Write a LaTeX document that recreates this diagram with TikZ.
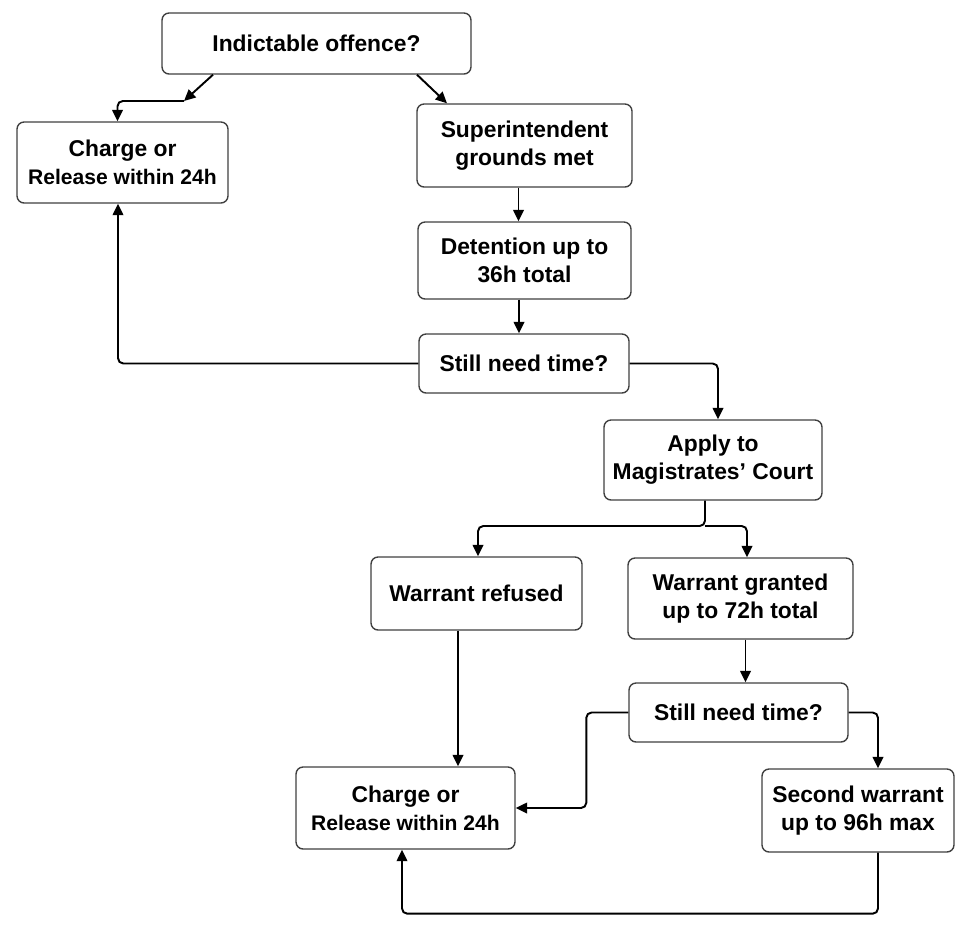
\documentclass[tikz,border=0pt]{standalone}
\usepackage{fontspec}
\setmainfont{Liberation Sans}
\usetikzlibrary{arrows.meta,calc}

\begin{document}
\begin{tikzpicture}[
  x=0.02cm, y=-0.02cm,
  >={Triangle[length=6.5pt,width=6pt]},
  font=\bfseries\fontsize{13}{16}\selectfont,
  box/.style={draw=black!75, line width=0.8pt, rounded corners=4pt, fill=white, align=center, inner sep=1pt},
  arr/.style={->, line width=1.1pt, rounded corners=3pt}
]
\useasboundingbox (0,0) rectangle (971,931);

\node[box, minimum width=6.18cm, minimum height=1.22cm] (q1) at (316.5,43.5) {Indictable offence?};
\node[box, minimum width=4.22cm, minimum height=1.62cm] (c1) at (122.5,162.5) {Charge or\\{\fontsize{12}{16}\selectfont Release within 24h}};
\node[box, minimum width=4.30cm, minimum height=1.66cm] (sup) at (524.5,145.5) {Superintendent\\grounds met};
\node[box, minimum width=4.26cm, minimum height=1.54cm] (det) at (524.5,260.5) {Detention up to\\36h total};
\node[box, minimum width=4.20cm, minimum height=1.18cm] (q2) at (524,363.5) {Still need time?};
\node[box, minimum width=4.36cm, minimum height=1.60cm] (app) at (713,460) {Apply to\\Magistrates’ Court};
\node[box, minimum width=4.22cm, minimum height=1.46cm] (ref) at (476.5,593.5) {Warrant refused};
\node[box, minimum width=4.50cm, minimum height=1.62cm] (gra) at (740.5,598.5) {Warrant granted\\up to 72h total};
\node[box, minimum width=4.38cm, minimum height=1.18cm] (q3) at (738.5,712.5) {Still need time?};
\node[box, minimum width=4.38cm, minimum height=1.64cm] (c2) at (405.5,808) {Charge or\\{\fontsize{12}{16}\selectfont Release within 24h}};
\node[box, minimum width=3.84cm, minimum height=1.66cm] (sec) at (858,810.5) {Second warrant\\up to 96h max};

\coordinate (k1) at (184,101);
\coordinate (split) at (705,526);
\coordinate (r1) at ([xshift=-0.37cm]ref.south);
\coordinate (g1) at ([xshift=0.1cm]gra.south);
\coordinate (s1) at ([xshift=-0.12cm]sup.south);
\coordinate (d1) at ([xshift=-0.11cm]det.south);

\draw[arr] ($(q1.south)+(-103.5,0)$) -- (k1);
\draw[arr] (k1) -| ([xshift=-0.1cm]c1.north);
\draw[arr] ($(q1.south)+(100.5,0)$) -- ($(sup.north)+(-77.5,0)$);
\draw[arr] (s1) -- (s1 |- det.north);
\draw[arr] (d1) -- (d1 |- q2.north);
\draw[arr] (q2.west) -| ([xshift=-0.09cm]c1.south);
\draw[arr] (q2.east) -| ([xshift=0.1cm]app.north);
\draw[arr] (split |- app.south) -- (split) -| ([xshift=0.03cm]ref.north);
\draw[arr] (split) -| ([xshift=0.13cm]gra.north);
\draw[arr] (r1) -- (r1 |- c2.north);
\draw[arr] (g1) -- (g1 |- q3.north);
\draw[arr] (q3.west) -- ++(-42,0) |- (c2.east);
\draw[arr] (q3.east) -| ([xshift=0.4cm]sec.north);
\draw[arr] ([xshift=0.4cm]sec.south) -- ++(0,61) -| ([xshift=-0.07cm]c2.south);

\end{tikzpicture}
\end{document}
